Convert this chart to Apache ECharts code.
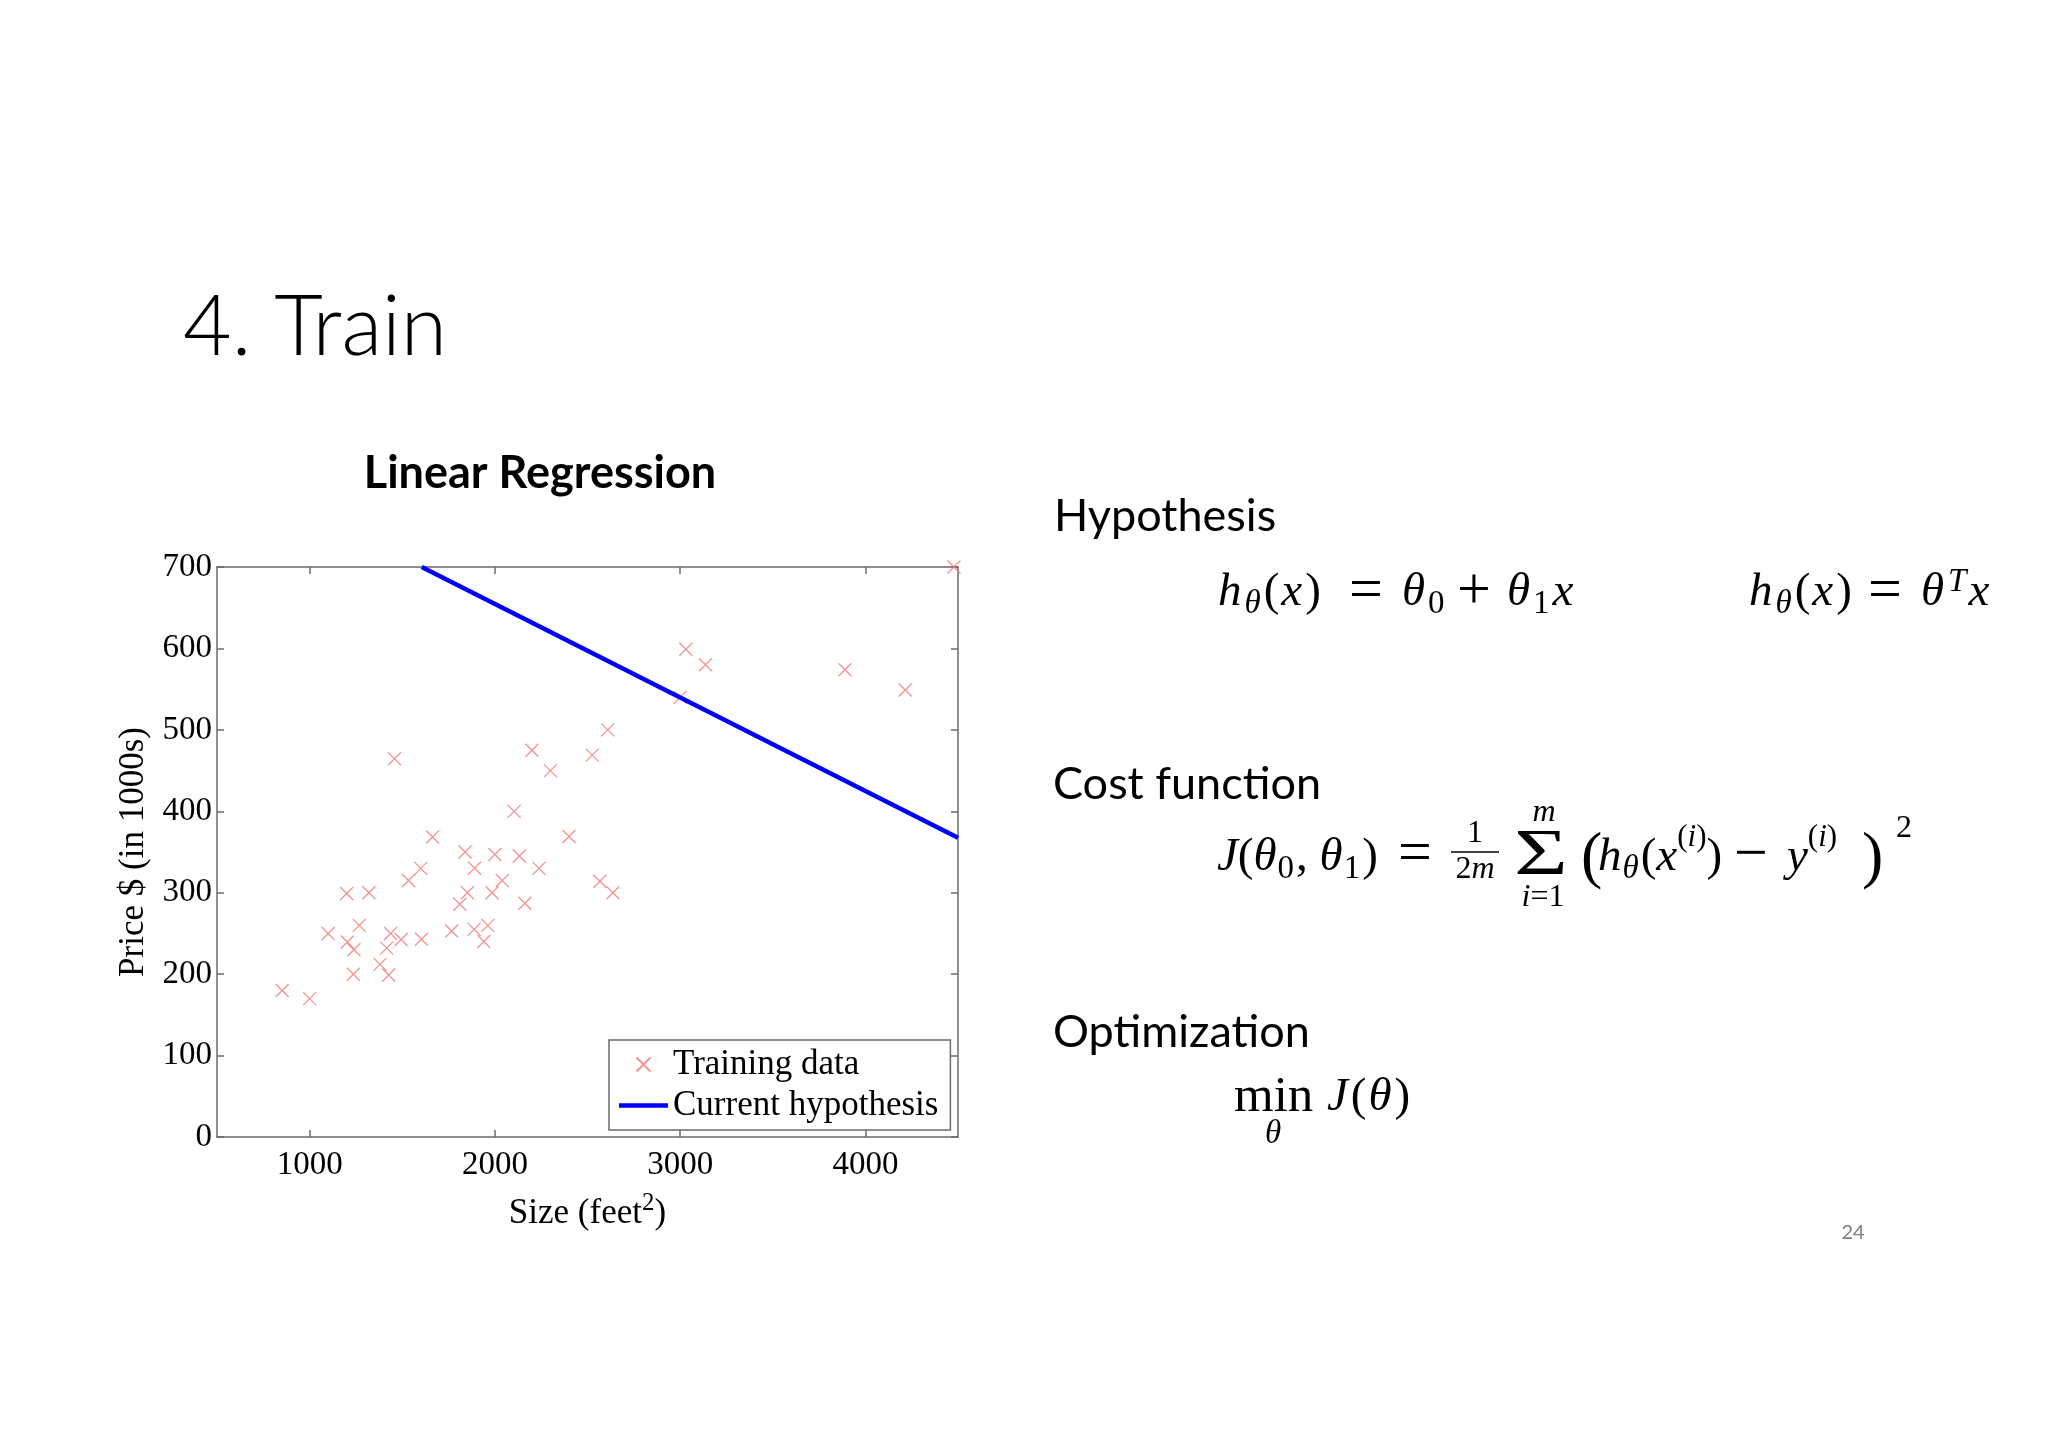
<!DOCTYPE html>
<html>
<head>
<meta charset="utf-8">
<script src="https://cdn.jsdelivr.net/npm/echarts@6/dist/echarts.min.js"></script>
<style>html,body{margin:0;padding:0;background:#fff}#c{width:2048px;height:1447px}</style>
</head>
<body>
<div id="c"></div>
<script>
// ---- data ----
const sizes = [2104,1600,2400,1416,3000,1985,1534,1427,1380,1494,1940,2000,1890,4478,1268,2300,1320,1236,2609,3031,1767,1888,1604,1962,3890,1100,1458,2526,2200,2637,1839,1000,2040,3137,1811,1437,1239,2132,4215,2162,1664,2238,2567,1200,852,1852,1203];
const prices = [399.9,329.9,369,232,539.9,299.9,314.9,199,212,242.5,240,347,330,699.9,259.9,449.9,299.9,199.9,500,599,252.9,255,242.9,259.9,573.9,249.9,464.5,469,475,299.9,349.9,169.9,314.9,579.9,285.9,249.9,229.9,345,549,287,368.5,329.9,314,299,179.9,299.9,239.5];
const hypothesisX = [1605, 4500];
const hypothesisY = [700, 367.5];
const xTicks = [1000, 2000, 3000, 4000];
const seriesNames = ['Training data', 'Current hypothesis'];

// ---- styles ----
const SERIF = 'Liberation Serif';
const SANS = 'Lato';
const M = 47, S = 33;
const AX = '#6b6b6b';
const R = {
  i:  {fontFamily: SERIF, fontStyle: 'italic', fontSize: M, padding: [0, 2, 0, 1]},
  n:  {fontFamily: SERIF, fontSize: M, padding: [0, 1, 0, 1]},
  I:  {fontFamily: SERIF, fontStyle: 'italic', fontSize: M},
  N:  {fontFamily: SERIF, fontSize: M},
  si: {fontFamily: SERIF, fontStyle: 'italic', fontSize: S, padding: [22, 2, 0, 1]},
  sn: {fontFamily: SERIF, fontSize: S, padding: [22, 2, 0, 1]},
  pi: {fontFamily: SERIF, fontStyle: 'italic', fontSize: 31, padding: [0, 0, 40, 0]},
  pn: {fontFamily: SERIF, fontSize: 31, padding: [0, 0, 40, 0]},
  ti: {fontFamily: SERIF, fontStyle: 'italic', fontSize: S, padding: [0, 2, 22, 2]},
  fi: {fontFamily: SERIF, fontStyle: 'italic', fontSize: 32},
  fn: {fontFamily: SERIF, fontSize: 32}
};
function T(x, y, text, o) {
  o = o || {};
  const el = {
    type: 'text', silent: true, z: 10,
    style: {
      x: x, y: y, text: text,
      align: o.align || 'left', verticalAlign: 'middle',
      fill: o.fill || '#000',
      fontFamily: o.family || SERIF,
      fontSize: o.size || M,
      fontStyle: o.style || 'normal',
      fontWeight: o.weight || 'normal',
      rich: R
    }
  };
  if (o.scaleX) { el.scaleX = o.scaleX; el.originX = x; el.originY = y; }
  return el;
}

const graphics = [
  T(183, 328, '4. Train', {family: SANS, size: 84, weight: 300}),
  T(540, 473, 'Linear Regression', {family: SANS, size: 45, weight: 'bold', align: 'center'}),
  T(1054, 516, 'Hypothesis', {family: SANS, size: 45}),
  T(1053, 784, 'Cost function', {family: SANS, size: 45}),
  T(1053, 1032, 'Optimization', {family: SANS, size: 45}),
  T(1853, 1233, '24', {family: SANS, size: 20, fill: '#7f7f7f', align: 'center'}),

  // hypothesis formulas
  T(1217, 593, '{i|h}{si|θ}{n|(}{i|x}{n|)}'),
  T(1366, 592, '=', {size: 60, align: 'center'}),
  T(1401, 593, '{i|θ}{sn|0}'),
  T(1474, 592, '+', {size: 60, align: 'center'}),
  T(1506, 593, '{i|θ}{sn|1}{i|x}'),
  T(1748, 593, '{i|h}{si|θ}{n|(}{i|x}{n|)}'),
  T(1885, 592, '=', {size: 60, align: 'center'}),
  T(1920, 593, '{i|θ}{ti|T}{I|x}'),

  // cost function
  T(1217, 858, '{I|J}{N|(}{I|θ}{sn|0}{N|,}{N| }{I|θ}{sn|1}{N|)}'),
  T(1415, 855, '=', {size: 60, align: 'center'}),
  T(1475, 834, '1', {size: 32, align: 'center'}),
  {type: 'line', silent: true, shape: {x1: 1451, y1: 852, x2: 1499, y2: 852}, style: {stroke: '#000', lineWidth: 1.6}},
  T(1475, 870, '{fn|2}{fi|m}', {size: 32, align: 'center'}),
  T(1541, 857, 'Σ', {size: 66, align: 'center', scaleX: 1.4}),
  T(1544, 813, 'm', {size: 32, style: 'italic', align: 'center'}),
  T(1543, 898, '{fi|i}{fn|=1}', {size: 32, align: 'center'}),
  T(1581, 859, '(', {size: 64}),
  T(1598, 858, '{I|h}{si|θ}{N|(}{I|x}{pn|(}{pi|i}{pn|)}{N|)}'),
  T(1751, 856, '−', {size: 60, align: 'center'}),
  T(1787, 858, '{I|y}{pn|(}{pi|i}{pn|)}'),
  T(1862, 859, ')', {size: 64}),
  T(1896, 829, '2', {size: 32}),

  // optimization
  T(1234, 1098, 'min', {size: 51}),
  T(1273, 1134, 'θ', {size: 33, style: 'italic', align: 'center'}),
  T(1326, 1098, '{i|J}{n|(}{i|θ}{n|)}')
];

const axisFont = {fontFamily: SERIF, fontSize: 33, color: '#000'};
const plainNumber = v => String(v);

const option = {
  backgroundColor: '#ffffff',
  animation: false,
  grid: {left: 217, top: 567, right: 1090, bottom: 310},
  legend: {
    orient: 'vertical', left: 609, top: 1040,
    padding: [7, 12, 7, 10], itemGap: 6, itemWidth: 49, itemHeight: 14,
    backgroundColor: '#ffffff', borderColor: AX, borderWidth: 1.5, borderRadius: 0,
    selectedMode: false,
    textStyle: {fontFamily: SERIF, fontSize: 35, color: '#000'},
    data: [
      {name: seriesNames[0]},
      {name: seriesNames[1], icon: 'path://M0,0H49V4.5H0Z'}
    ]
  },
  xAxis: [
    {
      type: 'value', min: 500, max: 4500, position: 'bottom',
      axisLine: {show: true, onZero: false, lineStyle: {color: AX, width: 1.5}},
      axisTick: {show: true, inside: true, length: 7, customValues: xTicks, lineStyle: {color: AX, width: 1.5}},
      axisLabel: Object.assign({customValues: xTicks, margin: 12, formatter: plainNumber}, axisFont),
      splitLine: {show: false},
      name: 'Size (feet{sup|2})', nameLocation: 'middle', nameGap: 54,
      nameTextStyle: {fontFamily: SERIF, fontSize: 35, color: '#000',
        rich: {sup: {fontFamily: SERIF, fontSize: 25, color: '#000', padding: [0, 0, 20, 0]}}}
    },
    {
      type: 'value', min: 500, max: 4500, position: 'top',
      axisLine: {show: true, onZero: false, lineStyle: {color: AX, width: 1.5}},
      axisTick: {show: true, inside: true, length: 7, customValues: xTicks, lineStyle: {color: AX, width: 1.5}},
      axisLabel: {show: false}, splitLine: {show: false}
    }
  ],
  yAxis: [
    {
      type: 'value', min: 0, max: 700, interval: 100, position: 'left',
      axisLine: {show: true, onZero: false, lineStyle: {color: AX, width: 1.5}},
      axisTick: {show: true, inside: true, length: 7, lineStyle: {color: AX, width: 1.5}},
      axisLabel: Object.assign({margin: 5, formatter: plainNumber}, axisFont),
      splitLine: {show: false},
      name: 'Price $ (in 1000s)', nameLocation: 'middle', nameGap: 66,
      nameTextStyle: {fontFamily: SERIF, fontSize: 35, color: '#000'}
    },
    {
      type: 'value', min: 0, max: 700, interval: 100, position: 'right',
      axisLine: {show: true, onZero: false, lineStyle: {color: AX, width: 1.5}},
      axisTick: {show: true, inside: true, length: 7, lineStyle: {color: AX, width: 1.5}},
      axisLabel: {show: false}, splitLine: {show: false}
    }
  ],
  series: [
    {
      type: 'scatter', name: seriesNames[0], xAxisIndex: 0, yAxisIndex: 0,
      data: sizes.map((s, i) => [s, prices[i]]),
      symbol: 'path://M0,0L10,10M10,0L0,10', symbolSize: 13,
      itemStyle: {color: 'rgba(0,0,0,0)', borderColor: '#f07878', borderWidth: 1.3},
      z: 2
    },
    {
      type: 'line', name: seriesNames[1], xAxisIndex: 0, yAxisIndex: 0,
      data: hypothesisX.map((x, i) => [x, hypothesisY[i]]),
      symbol: 'none', lineStyle: {color: '#0000ff', width: 4.5}, itemStyle: {color: '#0000ff'},
      z: 3
    }
  ],
  graphic: graphics
};

const chart = echarts.init(document.getElementById('c'), null, {renderer: 'canvas'});
chart.setOption(option);
</script>
</body>
</html>
